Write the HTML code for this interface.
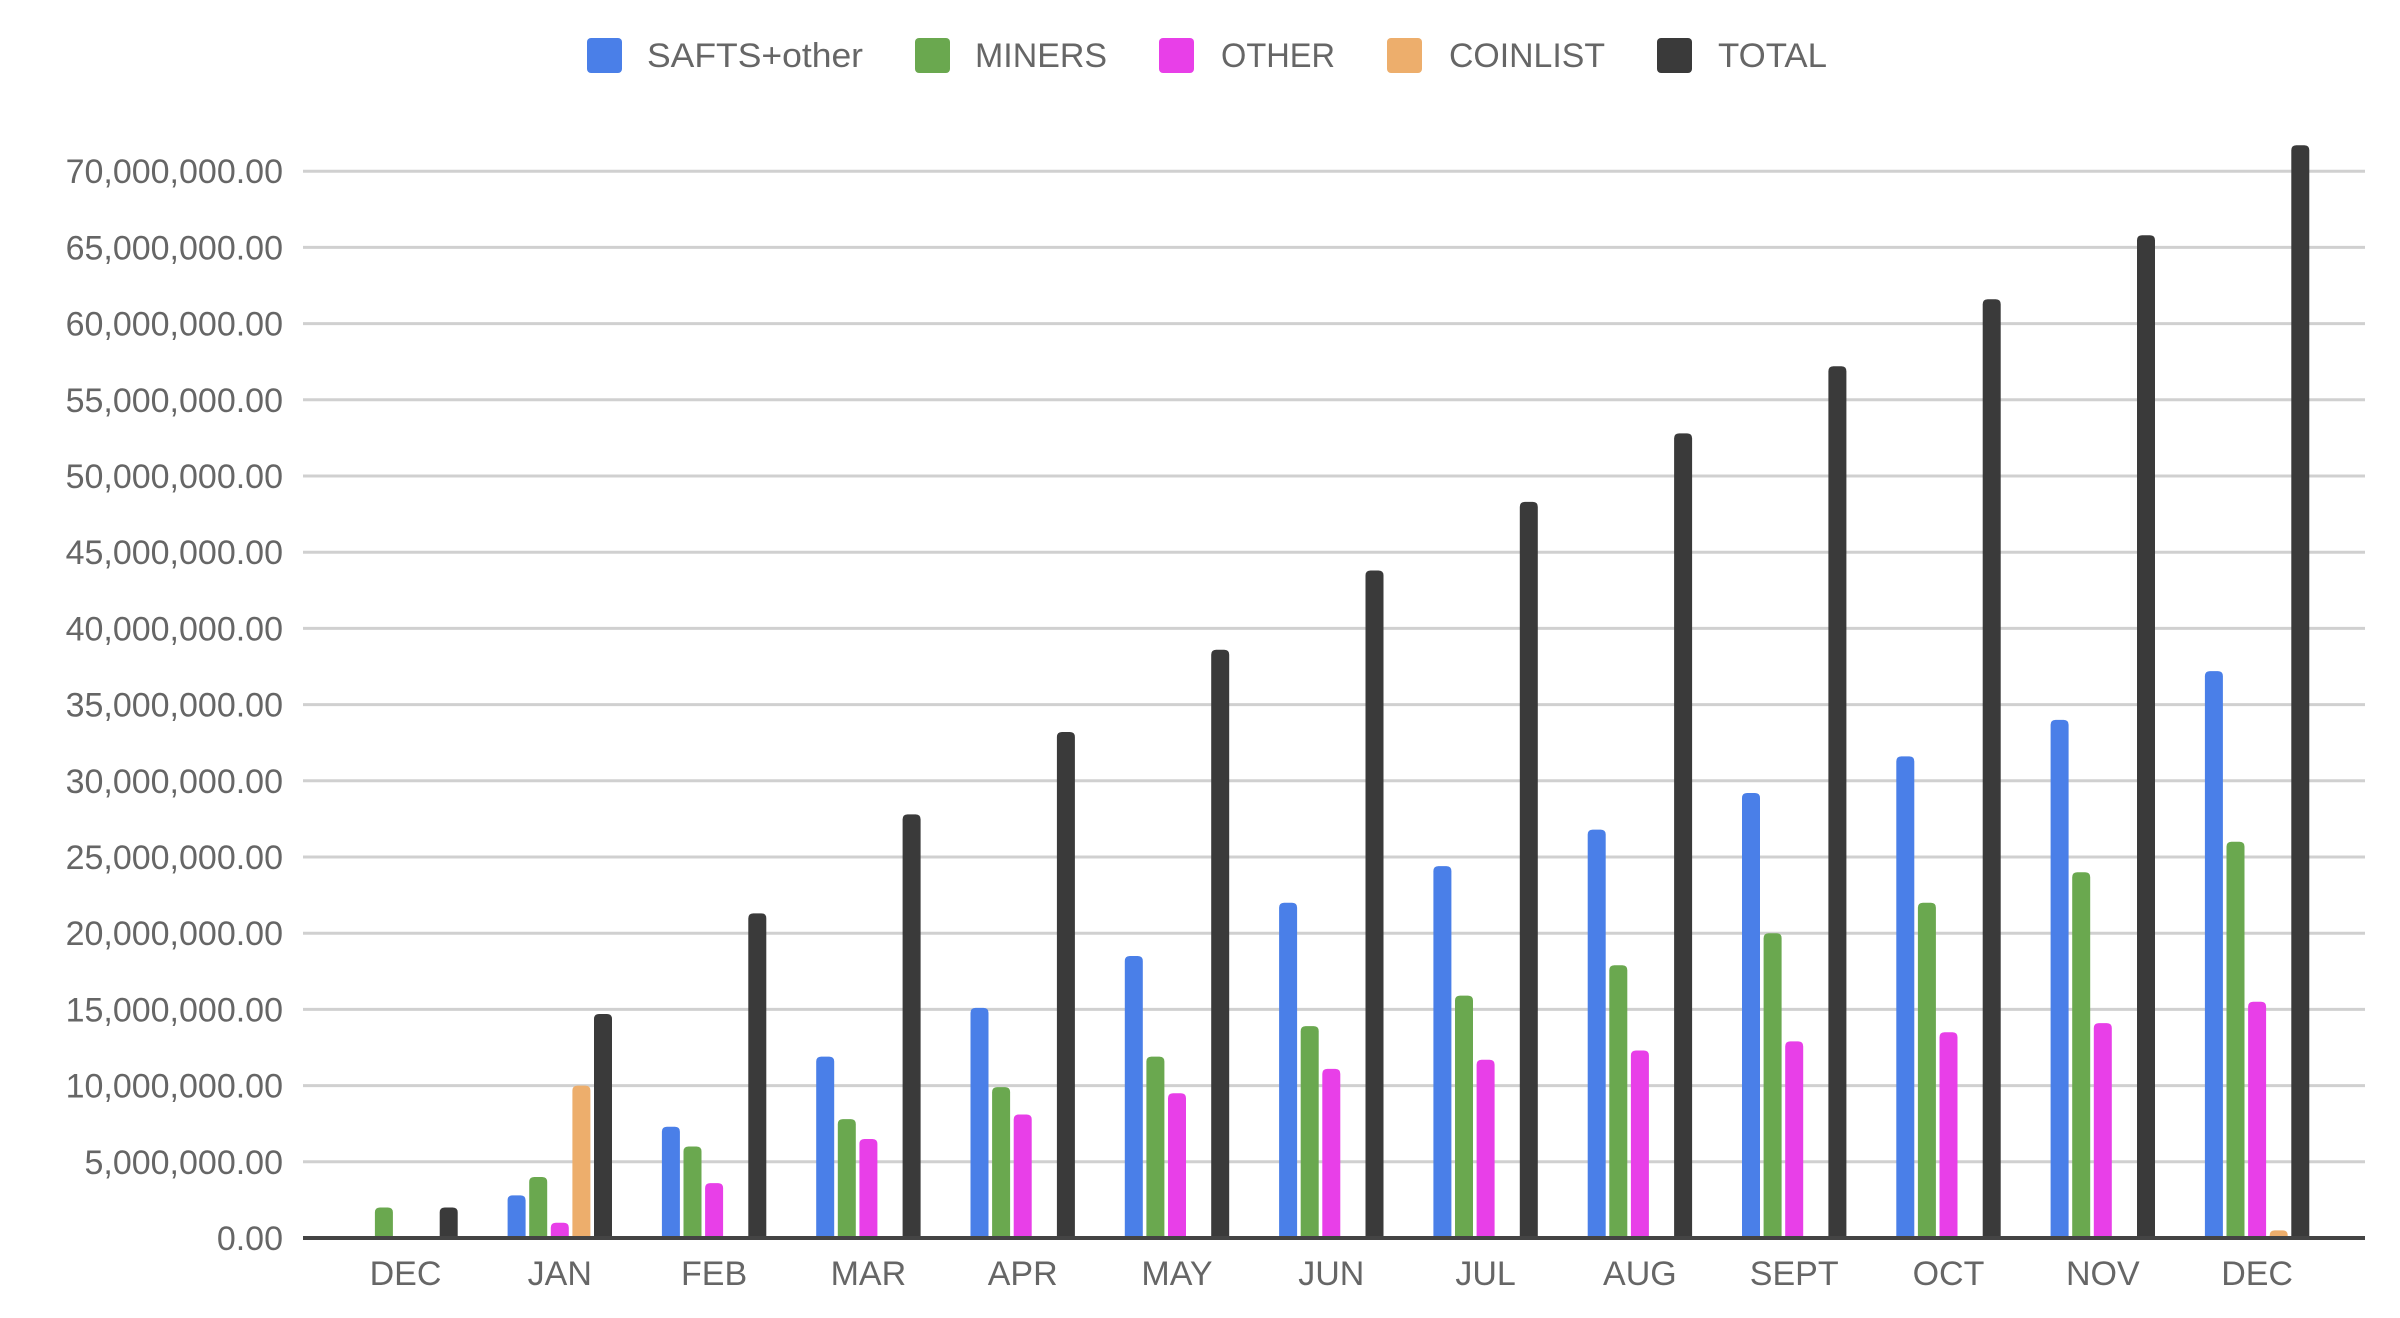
<!DOCTYPE html>
<html><head><meta charset="utf-8"><style>
html,body{margin:0;padding:0;background:#fff;}
svg{display:block;font-family:"Liberation Sans",sans-serif;}
</style></head><body>
<svg width="2400" height="1318" viewBox="0 0 2400 1318" xmlns="http://www.w3.org/2000/svg">
<rect width="2400" height="1318" fill="#fff"/>
<g font-size="34" fill="#666">
<rect x="587" y="38" width="35" height="35" rx="4" fill="#4a7fe8"/><text x="647" y="67" textLength="216" lengthAdjust="spacingAndGlyphs">SAFTS+other</text>
<rect x="915" y="38" width="35" height="35" rx="4" fill="#6aa84f"/><text x="975" y="67" textLength="132" lengthAdjust="spacingAndGlyphs">MINERS</text>
<rect x="1159" y="38" width="35" height="35" rx="4" fill="#e83fe8"/><text x="1221" y="67" textLength="114" lengthAdjust="spacingAndGlyphs">OTHER</text>
<rect x="1387" y="38" width="35" height="35" rx="4" fill="#edae6c"/><text x="1449" y="67" textLength="156" lengthAdjust="spacingAndGlyphs">COINLIST</text>
<rect x="1657" y="38" width="35" height="35" rx="4" fill="#3a3a3a"/><text x="1718" y="67" textLength="109" lengthAdjust="spacingAndGlyphs">TOTAL</text>
</g>
<g id="grid" stroke="#d0d0d0" stroke-width="3"></g>
<g id="ylab" font-size="34" fill="#666" text-anchor="end"></g>
<g id="bars"></g>
<line x1="303" y1="1238" x2="2365" y2="1238" stroke="#444" stroke-width="4"/>
<g id="xlab" font-size="34" fill="#666" text-anchor="middle"></g>
<script>
var ns="http://www.w3.org/2000/svg";
function el(t,a,p,txt){var e=document.createElementNS(ns,t);for(var k in a)e.setAttribute(k,a[k]);if(txt!==undefined)e.textContent=txt;document.getElementById(p).appendChild(e);}
var base=1238,per=76.2/5;
for(var i=1;i<=14;i++){var y=base-i*76.2;el('line',{x1:303,y1:y,x2:2365,y2:y},'grid');}
for(var i=0;i<=14;i++){var y=base-i*76.2;var v=(i*5000000).toLocaleString('en-US')+'.00';el('text',{x:283,y:y+12},'ylab',v);}
var cats=['DEC','JAN','FEB','MAR','APR','MAY','JUN','JUL','AUG','SEPT','OCT','NOV','DEC'];
var d=[[0,2,0,0,2],[2.8,4,1,10,14.7],[7.3,6,3.6,0,21.3],[11.9,7.8,6.5,0,27.8],[15.1,9.9,8.1,0,33.2],[18.5,11.9,9.5,0,38.6],[22,13.9,11.1,0,43.8],[24.4,15.9,11.7,0,48.3],[26.8,17.9,12.3,0,52.8],[29.2,20,12.9,0,57.2],[31.6,22,13.5,0,61.6],[34,24,14.1,0,65.8],[37.2,26,15.5,0.5,71.7]];
var col=['#4a7fe8','#6aa84f','#e83fe8','#edae6c','#3a3a3a'];
for(var c=0;c<13;c++){var cx=405.5+c*154.3;
el('text',{x:cx,y:1285},'xlab',cats[c]);
for(var k=0;k<5;k++){var v=d[c][k];if(!v)continue;var h=v*per;var x=cx+(k-2)*21.6-9;
el('path',{d:'M'+x+' '+base+'V'+(base-h+5)+'Q'+x+' '+(base-h)+' '+(x+5)+' '+(base-h)+'H'+(x+13)+'Q'+(x+18)+' '+(base-h)+' '+(x+18)+' '+(base-h+5)+'V'+base+'Z',fill:col[k]},'bars');}}
</script>
</svg>
</body></html>
